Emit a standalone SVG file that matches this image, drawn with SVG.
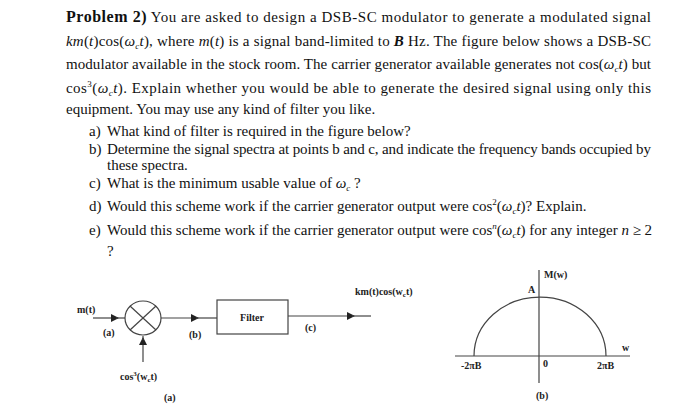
<svg xmlns="http://www.w3.org/2000/svg" width="700" height="418" viewBox="0 0 700 418">
<style>
.t{font-family:'Liberation Serif','DejaVu Serif',serif;font-size:15px;fill:#111}
.d{font-family:'Liberation Serif','DejaVu Serif',serif;font-size:10px;font-weight:bold;fill:#222}
.l{stroke:#444;stroke-width:1.2;fill:none}
</style>
<defs><marker id="ar" markerWidth="8" markerHeight="8" refX="7" refY="4" orient="auto" markerUnits="userSpaceOnUse"><path d="M0,0 L8,4 L0,8 Z" fill="#222"/></marker></defs>
<rect width="700" height="418" fill="#fff"/>
<g id="text">
<text class="t" x="66" y="22" textLength="585" lengthAdjust="spacing"><tspan font-weight="bold" font-size="16">Problem 2)</tspan> You are asked to design a DSB-SC modulator to generate a modulated signal</text>
<text class="t" x="66" y="46" textLength="585" lengthAdjust="spacing"><tspan font-style="italic">km</tspan>(<tspan font-style="italic">t</tspan>)cos(<tspan font-style="italic">ω<tspan font-size="9" dy="3">c</tspan><tspan dy="-3">t</tspan></tspan>), where <tspan font-style="italic">m</tspan>(<tspan font-style="italic">t</tspan>) is a signal band-limited to <tspan font-style="italic" font-weight="bold">B</tspan> Hz. The figure below shows a DSB-SC</text>
<text class="t" x="66" y="69" textLength="585" lengthAdjust="spacing">modulator available in the stock room. The carrier generator available generates not cos(<tspan font-style="italic">ω<tspan font-size="9" dy="3">c</tspan><tspan dy="-3">t</tspan></tspan>) but</text>
<text class="t" x="66" y="93" textLength="585" lengthAdjust="spacing">cos<tspan font-size="9" dy="-6">3</tspan><tspan dy="6">(</tspan><tspan font-style="italic">ω<tspan font-size="9" dy="3">c</tspan><tspan dy="-3">t</tspan></tspan>). Explain whether you would be able to generate the desired signal using only this</text>
<text class="t" x="66" y="114">equipment. You may use any kind of filter you like.</text>
<text class="t" x="89" y="136">a)</text><text class="t" x="107" y="136">What kind of filter is required in the figure below?</text>
<text class="t" x="89" y="154">b)</text><text class="t" x="107" y="154" textLength="544" lengthAdjust="spacing">Determine the signal spectra at points b and c, and indicate the frequency bands occupied by</text>
<text class="t" x="107" y="170">these spectra.</text>
<text class="t" x="89" y="188">c)</text><text class="t" x="107" y="188">What is the minimum usable value of <tspan font-style="italic">ω<tspan font-size="9" dy="3">c</tspan></tspan><tspan dy="-3"> ?</tspan></text>
<text class="t" x="89" y="211">d)</text><text class="t" x="107" y="211">Would this scheme work if the carrier generator output were cos<tspan font-size="9" dy="-6">2</tspan><tspan dy="6">(</tspan><tspan font-style="italic">ω<tspan font-size="9" dy="3">c</tspan><tspan dy="-3">t</tspan></tspan>)? Explain.</text>
<text class="t" x="89" y="235">e)</text><text class="t" x="107" y="235">Would this scheme work if the carrier generator output were cos<tspan font-size="9" dy="-6" font-style="italic">n</tspan><tspan dy="6">(</tspan><tspan font-style="italic">ω<tspan font-size="9" dy="3">c</tspan><tspan dy="-3">t</tspan></tspan>) for any integer <tspan font-style="italic">n</tspan> ≥ 2</text>
<text class="t" x="107" y="256">?</text>
</g>
<g id="connectors">
<line class="l" x1="93" y1="318" x2="118" y2="318" marker-end="url(#ar)"/><line class="l" x1="116" y1="318" x2="125" y2="318"/>
<line class="l" x1="161" y1="318" x2="198" y2="318" marker-end="url(#ar)"/><line class="l" x1="196" y1="318" x2="217" y2="318"/>
<line class="l" x1="288" y1="316" x2="354" y2="316" marker-end="url(#ar)"/><line class="l" x1="352" y1="316" x2="371" y2="316"/>
<line class="l" x1="143" y1="362" x2="143" y2="338" marker-end="url(#ar)"/><line class="l" x1="143" y1="340" x2="143" y2="336"/>
</g>
<g id="mixer"><ellipse class="l" cx="143" cy="318" rx="18" ry="17"/><line class="l" x1="130" y1="306" x2="156" y2="330"/><line class="l" x1="156" y1="306" x2="130" y2="330"/></g>
<g id="filter"><rect class="l" x="217" y="300" width="71" height="34"/><text class="d" x="252" y="321" text-anchor="middle">Filter</text></g>
<g id="labels">
<text class="d" x="77" y="313">m(t)</text>
<text class="d" x="103" y="336">(a)</text>
<text class="d" x="189" y="338">(b)</text>
<text class="d" x="305" y="331">(c)</text>
<text class="d" x="355" y="295">km(t)cos(w<tspan font-size="7" dy="2">c</tspan><tspan dy="-2">t)</tspan></text>
<text class="d" x="120" y="380">cos<tspan font-size="7" dy="-4">3</tspan><tspan dy="4">(w</tspan><tspan font-size="7" dy="2">c</tspan><tspan dy="-2">t)</tspan></text>
<text class="d" x="164" y="401">(a)</text>
</g>
<g id="spectrum">
<line class="l" x1="455" y1="356" x2="630" y2="356"/>
<line class="l" x1="539" y1="270" x2="539" y2="383"/>
<path class="l" d="M474,356 A66,59 0 0 1 606,356"/>
<text class="d" x="544" y="278">M(w)</text>
<text class="d" x="528" y="293">A</text>
<text class="d" x="622" y="351">w</text>
<text class="d" x="461" y="369">-2πB</text>
<text class="d" x="543" y="367">0</text>
<text class="d" x="597" y="369">2πB</text>
<text class="d" x="536" y="399">(b)</text>
</g>
</svg>
